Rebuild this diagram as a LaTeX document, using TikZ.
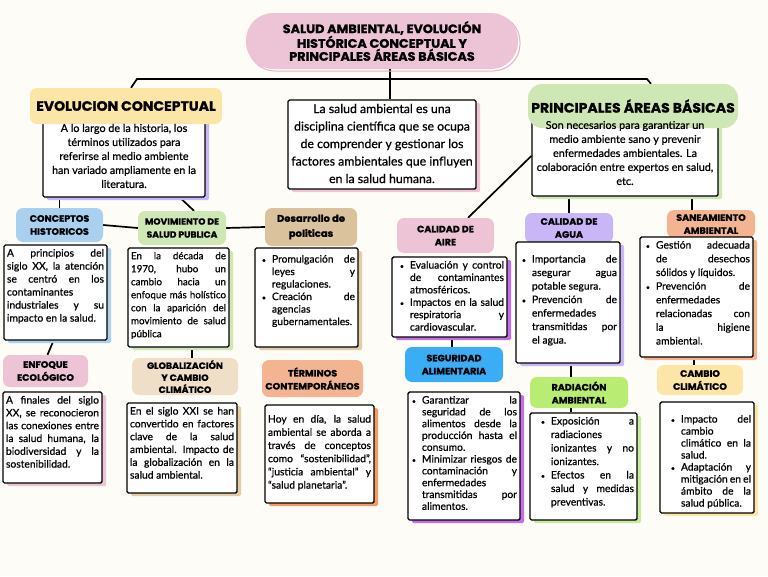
\documentclass[tikz,border=0pt]{standalone}
\usepackage{fontspec}
\setmainfont{Lato}
\newfontfamily\headfont{Poppins}[BoldFeatures={FakeBold=1.3,FakeStretch=1.04}]
\newfontfamily\bodyfont{Lato}[FakeBold=0.7]
\usetikzlibrary{shadows}
\definecolor{bgc}{HTML}{FDFCF7}
\definecolor{pinkc}{HTML}{ECC4D5}
\definecolor{pinkline}{HTML}{E6B3C8}
\definecolor{yellowc}{HTML}{FBE6A8}
\definecolor{greenc}{HTML}{CFE6B5}
\definecolor{bluec}{HTML}{A9D0EE}
\definecolor{tanc}{HTML}{D9C29C}
\definecolor{tanshadow}{HTML}{E3CCA8}
\definecolor{beigec}{HTML}{F0DFC8}
\definecolor{orangec}{HTML}{F3B491}
\definecolor{orangeshadow}{HTML}{F59B62}
\definecolor{skyc}{HTML}{3AADF5}
\definecolor{lavc}{HTML}{C9B6F7}
\definecolor{limec}{HTML}{B8EC72}
\definecolor{limeshadow}{HTML}{C8EBA0}
\definecolor{magc}{HTML}{C46DE8}
\pgfdeclarelayer{bg}
\pgfdeclarelayer{lines}
\pgfsetlayers{bg,lines,main}
\newenvironment{blist}[2]{\begin{list}{{\scriptsize\textbullet}}{\setlength\leftmargin{#1}\setlength\rightmargin{#2}\setlength\labelwidth{7pt}\setlength\labelsep{6pt}\setlength\itemsep{0pt}\setlength\parsep{0pt}\setlength\topsep{0pt}\setlength\partopsep{0pt}\setlength\itemindent{0pt}\setlength\listparindent{0pt}}}{\end{list}}
\newcommand\card[7]{\node[card, drop shadow={shadow xshift=4pt,shadow yshift=-3pt,fill=#6,opacity=1}] (#1) at (#2,#3) {\parbox[c][\dimexpr#5pt-8pt\relax][t]{\dimexpr#4pt-6pt\relax}{\sloppy\hyphenpenalty=10000 #7}};}
\newcommand\cardtext[6]{\node[cardtxt] (#1) at (#2,#3) {\parbox[c][\dimexpr#5pt-8pt\relax][t]{\dimexpr#4pt-6pt\relax}{#6}};}
\tikzset{
 blob/.style={rounded corners=7pt, inner sep=1pt, align=center, font=\headfont\bfseries\fontsize{9.2}{13}\selectfont},
 bigblob/.style={blob, font=\headfont\bfseries\fontsize{13.5}{15}\selectfont},
 card/.style={draw=black, line width=1.4pt, fill=white, rounded corners=1.5pt, inner xsep=3pt, inner ysep=4pt, font=\bodyfont\fontsize{10.3}{13}\selectfont},
 cardtxt/.style={inner xsep=3pt, inner ysep=4pt, font=\bodyfont\fontsize{10.3}{13}\selectfont},
 link/.style={draw=black, line width=1.7pt},
}
\begin{document}
\begin{tikzpicture}[x=1pt,y=-1pt]
\begin{pgfonlayer}{bg}
\fill[bgc] (0,0) rectangle (768,576);
\end{pgfonlayer}
\useasboundingbox (0,0) rectangle (768,576);

% title
\node[blob, fill=pinkc, rounded corners=27pt, minimum width=272pt, minimum height=56pt,
  drop shadow={shadow xshift=2pt,shadow yshift=-2pt,fill=none,draw=pinkline,line width=1pt,opacity=1},
  font=\headfont\bfseries\fontsize{12.3}{13}\selectfont] (title) at (382,41)
  {SALUD AMBIENTAL, EVOLUCIÓN\\HISTÓRICA CONCEPTUAL Y\\PRINCIPALES ÁREAS BÁSICAS};

% level 1
\card{evolbox}{124}{158}{162}{78}{lavc}{\leavevmode}
\node[bigblob, fill=yellowc, minimum width=192pt, minimum height=36pt] (evol) at (126,106) {EVOLUCION CONCEPTUAL};
\cardtext{evoltext}{124}{158}{162}{78}{\centering\fontsize{10.8}{14}\selectfont\vspace*{1pt}A lo largo de la historia, los\\ términos utilizados para\\ referirse al medio ambiente\\ han variado ampliamente en la\\ literatura.}

\card{cbox}{382}{144.5}{188}{89}{pinkc}{\centering\fontsize{12.3}{17.5}\selectfont La salud ambiental es una\\ disciplina científica que se ocupa\\ de comprender y gestionar los\\ factores ambientales que influyen\\ en la salud humana.}

\card{pbox}{625}{156}{186}{80}{greenc}{\leavevmode}
\node[bigblob, fill=greenc, rounded corners=14pt, minimum width=210pt, minimum height=44pt] (princ) at (633,106) {PRINCIPALES ÁREAS BÁSICAS};
\cardtext{ptext}{625}{156}{186}{80}{\centering\fontsize{10.8}{14}\selectfont\vspace*{1pt}Son necesarios para garantizar un\\ medio ambiente sano y prevenir\\ enfermedades ambientales. La\\ colaboración entre expertos en salud,\\ etc.}

% left branch
\node[blob, fill=bluec, minimum width=87pt, minimum height=34pt] (conc) at (59.5,225) {CONCEPTOS\\HISTORICOS};
\node[blob, fill=greenc, minimum width=88pt, minimum height=34pt, font=\headfont\bfseries\fontsize{8.8}{13}\selectfont] (mov) at (182,228) {MOVIMIENTO DE\\SALUD PUBLICA};
\node[blob, fill=tanc, minimum width=92pt, minimum height=38pt, font=\headfont\bfseries\fontsize{9.6}{15}\selectfont] (des) at (311,227) {Desarrollo de\\politicas};

\card{concbox}{55.5}{292.5}{103}{95}{bluec}{A principios del\linebreak siglo XX, la atención\linebreak se centró en los\linebreak contaminantes\newline industriales y su\linebreak impacto en la salud.}
\card{movbox}{178.5}{297.5}{101}{99}{greenc}{\fontsize{9.8}{13}\selectfont En la década de\linebreak 1970, hubo un\linebreak cambio hacia un\linebreak enfoque más holístico\linebreak con la aparición del\linebreak movimiento de salud\linebreak pública}
\card{desbox}{306.5}{297.5}{103}{99}{tanshadow}{\fontsize{10.3}{12.5}\selectfont\vspace*{3pt}\begin{blist}{14pt}{0pt}
\item Promulgación de\linebreak leyes y\linebreak regulaciones.
\item Creación de\linebreak agencias\newline gubernamentales.
\end{blist}}

\node[blob, fill=pinkc, minimum width=85pt, minimum height=32pt] (enf) at (45.5,371) {ENFOQUE\\ECOLÓGICO};
\node[blob, fill=beigec, minimum width=106pt, minimum height=37pt, font=\headfont\bfseries\fontsize{9}{12}\selectfont] (glob) at (185,376.5) {GLOBALIZACIÓN\\Y CAMBIO\\CLIMÁTICO};
\node[blob, fill=orangec, minimum width=101pt, minimum height=37pt] (term) at (312.5,378.5) {TÉRMINOS\\CONTEMPORÁNEOS};

\card{enfbox}{52.5}{437.5}{99}{91}{pinkc}{\fontsize{10.3}{12.8}\selectfont A finales del siglo\linebreak XX, se reconocieron\linebreak las conexiones entre\linebreak la salud humana, la\linebreak biodiversidad y la\linebreak sostenibilidad.}
\card{globbox}{182}{448}{110}{90}{tanshadow}{\fontsize{10.3}{12.8}\selectfont En el siglo XXI se han\linebreak convertido en factores\linebreak clave de la salud\linebreak ambiental. Impacto de\linebreak la globalización en la\linebreak salud ambiental.}
\card{termbox}{319.5}{454}{109}{98}{orangeshadow}{\fontsize{10.3}{13.2}\selectfont\vspace*{6pt}Hoy en día, la salud\linebreak ambiental se aborda a\linebreak través de conceptos\linebreak como “sostenibilidad”,\linebreak “justicia ambiental” y\linebreak “salud planetaria”.}

% right branch
\node[blob, fill=pinkc, minimum width=97pt, minimum height=35pt] (aire) at (445.5,235.5) {CALIDAD DE\\AIRE};
\node[blob, fill=lavc, minimum width=88pt, minimum height=30pt] (agua) at (569,228) {CALIDAD DE\\AGUA};
\node[blob, fill=orangec, minimum width=88pt, minimum height=28pt] (san) at (711,224) {SANEAMIENTO\\AMBIENTAL};

\card{airebox}{449.5}{297}{115}{80}{magc}{\fontsize{10.3}{12.4}\selectfont\begin{blist}{15pt}{0pt}
\item Evaluación y control\linebreak de contaminantes\linebreak atmosféricos.
\item Impactos en la salud\linebreak respiratoria y\linebreak cardiovascular.
\end{blist}}
\card{aguabox}{568}{302.5}{104}{121}{lavc}{\fontsize{10.3}{13.5}\selectfont\vspace*{9pt}\begin{blist}{13pt}{0pt}
\item Importancia de\linebreak asegurar agua\linebreak potable segura.
\item Prevención de\linebreak enfermedades\newline transmitidas por\linebreak el agua.
\end{blist}}
\card{sanbox}{696.5}{297}{113}{120}{orangec}{\fontsize{10.3}{13.7}\selectfont\begin{blist}{13pt}{0pt}
\item Gestión adecuada\linebreak de desechos\linebreak sólidos y líquidos.
\item Prevención de\linebreak enfermedades\newline relacionadas con\linebreak la higiene\linebreak ambiental.
\end{blist}}

\node[blob, fill=skyc, minimum width=98pt, minimum height=35pt] (seg) at (454,364.5) {SEGURIDAD\\ALIMENTARIA};
\node[blob, fill=limec, minimum width=98pt, minimum height=31pt] (rad) at (579,392.5) {RADIACIÓN\\AMBIENTAL};
\node[blob, fill=yellowc, minimum width=86pt, minimum height=30pt] (camb) at (700,380) {CAMBIO\\CLIMÁTICO};

\card{segbox}{464}{456}{112}{128}{magc}{\fontsize{10.3}{11.8}\selectfont\begin{blist}{11pt}{0pt}
\item Garantizar la\linebreak seguridad de los\linebreak alimentos desde la\linebreak producción hasta el\linebreak consumo.
\item Minimizar riesgos de\linebreak contaminación y\linebreak enfermedades\newline transmitidas por\linebreak alimentos.
\end{blist}}
\card{radbox}{583.5}{466.5}{107}{107}{limeshadow}{\fontsize{10.3}{13.5}\selectfont\begin{blist}{18pt}{0pt}
\item Exposición a\linebreak radiaciones\newline ionizantes y no\linebreak ionizantes.
\item Efectos en la\linebreak salud y medidas\linebreak preventivas.
\end{blist}}
\card{cambbox}{707}{457.5}{100}{111}{yellowc}{\fontsize{10.3}{12}\selectfont\vspace*{9pt}\begin{blist}{18pt}{6pt}
\item Impacto del\linebreak cambio\newline climático en la\linebreak salud.
\item Adaptación y\linebreak mitigación en el\linebreak ámbito de la\linebreak salud pública.
\end{blist}}

% connectors
\coordinate (hub) at (390,79);
\coordinate (hl) at (137,79);
\coordinate (hr) at (647,79);
\begin{pgfonlayer}{lines}
\draw[link] (title.south -| hub) -- (cbox.north -| hub);
\draw[link] ([xshift=5pt]evol.north) -- (hl) -- (hr) -- ([xshift=18pt]princ.north);
\draw[link] (conc.north) -- (conc.north |- evolbox.south);
\draw[link] ([xshift=56pt]evolbox.south) -- ([xshift=12pt]mov.north);
\draw[link] (conc.east) -- (mov.west);
\draw[link] (mov.east) -- (des.west);
\draw[link] ([xshift=-2pt]concbox.south) -- ([xshift=2pt]enf.north);
\draw[link] ([xshift=7pt]glob.north) -- ([xshift=7pt]glob.north |- movbox.south);
\draw[link] (pbox.west) -- ([xshift=22.5pt]aire.north);
\draw[link] (agua.north) -- (agua.north |- pbox.south);
\draw[link] ([xshift=-19pt]san.north) -- ([xshift=-19pt]san.north |- pbox.south);
\draw[link] ([xshift=-2pt]seg.north) -- ([xshift=-2pt]seg.north |- airebox.south);
\draw[link] ([xshift=-8pt]rad.north) -- ([xshift=-8pt]rad.north |- aguabox.south);
\draw[link] ([xshift=-8pt]rad.south) -- ([xshift=-8pt]rad.south |- radbox.north);
\draw[link] ([xshift=-6pt]camb.north) -- ([xshift=-6pt]camb.north |- sanbox.south);
\end{pgfonlayer}
\end{tikzpicture}
\end{document}
